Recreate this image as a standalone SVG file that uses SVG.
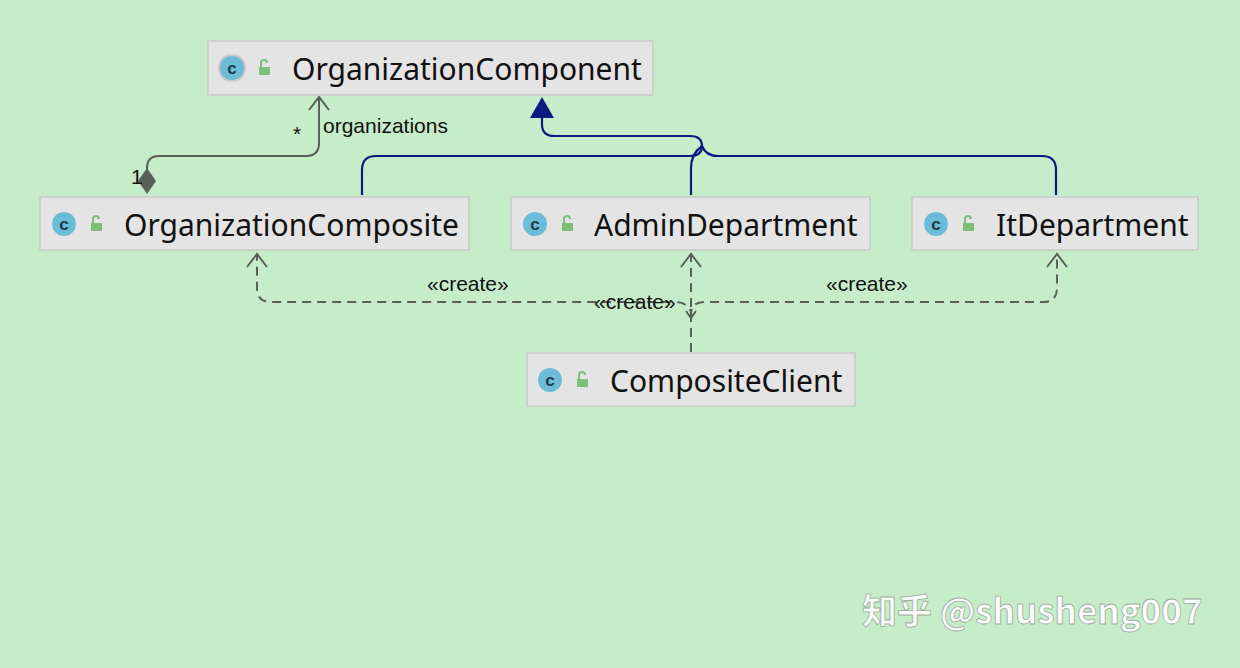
<svg xmlns="http://www.w3.org/2000/svg" width="1240" height="668" viewBox="0 0 1240 668">
<defs>
<style>
.box{fill:#e4e4e4;stroke:#c9c9c9;stroke-width:1.5}
.name{font-family:"Noto Sans","Open Sans",sans-serif;font-size:30px;fill:#111}
.ic{fill:#6cbbd8}
.ict{font-family:"Liberation Sans",sans-serif;font-size:17px;font-weight:bold;fill:#1d3b4a;text-anchor:middle}
.lk{fill:#7cc07a}
.inh{fill:none;stroke:#0a1a80;stroke-width:2.2}
.dep{fill:none;stroke:#5a5f5a;stroke-width:2;stroke-dasharray:9,6}
.asc{fill:none;stroke:#5a5f5a;stroke-width:2}
.lbl{font-family:"Liberation Sans",Arial,sans-serif;font-size:21px;fill:#111}
</style>
<g id="icon">
<circle class="ic" cx="0" cy="0" r="12"/>
<text class="ict" x="0" y="6">c</text>
<path class="lk" d="M27,-1h11v8h-11z"/>
<path d="M29,-1v-4a3,3 0 0 1 6,0" fill="none" stroke="#7cc07a" stroke-width="2"/>
</g>
</defs>
<rect width="1240" height="668" fill="#c7ecca"/>
<g id="connectors">
<path class="inh" d="M362,195V170q0,-14 14,-14H690q12,0 12,-10 0,-10 -12,-10H554q-12,0 -12,-12V110"/>
<path class="inh" d="M691,195V168q0,-14 11,-22 4,10 16,10H1042q14,0 14,14V195"/>
<path d="M530,118L542,97L554,118Z" fill="#0a1a80"/>
<path class="asc" d="M147,182V168q0,-12 12,-12H306q13,0 13,-13V98"/>
<path class="asc" d="M309,110L319,97L329,110"/>
<path d="M147,168L156,181L147,194L138,181Z" fill="#5a5f5a"/>
<text class="lbl" x="131" y="184">1</text>
<text class="lbl" x="293" y="141">*</text>
<text class="lbl" x="323" y="133">organizations</text>
<path class="dep" d="M691,352V253"/>
<path class="asc" d="M681,267L691,254L701,267"/>
<path class="asc" d="M686,311L691,318L696,311"/>
<path class="dep" d="M691,318V312q-4,-10 -16,-10H271q-14,0 -14,-14V254"/>
<path class="asc" d="M247,267L257,254L267,267"/>
<path class="dep" d="M691,318V314q0,-12 14,-12H1043q14,0 14,-14V254"/>
<path class="asc" d="M1047,267L1057,254L1067,267"/>
<text class="lbl" x="427" y="291">«create»</text>
<text class="lbl" x="594" y="309">«create»</text>
<text class="lbl" x="826" y="291">«create»</text>
</g>
<g id="OrganizationComponent">
<rect class="box" x="208" y="41" width="445" height="54"/>
<circle cx="232" cy="68" r="14" fill="#c8c8c8"/>
<use href="#icon" x="232" y="68"/>
<text class="name" x="292" y="80">OrganizationComponent</text>
</g>
<g id="OrganizationComposite">
<rect class="box" x="40" y="197" width="429" height="53"/>
<use href="#icon" x="64" y="224"/>
<text class="name" x="124" y="236">OrganizationComposite</text>
</g>
<g id="AdminDepartment">
<rect class="box" x="511" y="197" width="359" height="53"/>
<use href="#icon" x="535" y="224"/>
<text class="name" x="594" y="236">AdminDepartment</text>
</g>
<g id="ItDepartment">
<rect class="box" x="912" y="197" width="286" height="53"/>
<use href="#icon" x="936" y="224"/>
<text class="name" x="996" y="236">ItDepartment</text>
</g>
<g id="CompositeClient">
<rect class="box" x="527" y="353" width="328" height="53"/>
<use href="#icon" x="550" y="380"/>
<text class="name" x="610" y="392">CompositeClient</text>
</g>
<text x="862" y="624" font-family="'Noto Sans CJK SC','Noto Sans',sans-serif" font-size="35" font-weight="bold" fill="#ffffff" stroke="#9aa59b" stroke-width="0.8" opacity="0.9">知乎 @shusheng007</text>
</svg>
